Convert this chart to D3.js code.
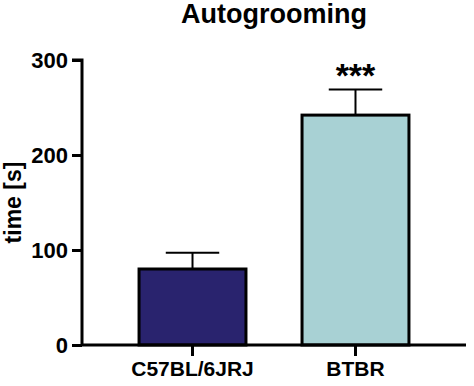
<!DOCTYPE html>
<html>
<head>
<meta charset="utf-8">
<script src="https://cdn.jsdelivr.net/npm/d3@7"></script>
<style>
  body { margin: 0; background: #fff; }
  text { font-family: "Liberation Sans", Arial, sans-serif; font-weight: bold; }
</style>
</head>
<body>
<div id="chart"></div>
<script>
// data
var groups = ["C57BL/6JRJ", "BTBR"];
var means = [80, 242];
var errors = [17, 27];
var colors = ["#29236e", "#a8d1d4"];
var stars = ["", "***"];
var yTicks = [0, 100, 200, 300];

var width = 474, height = 386;
var margin = {top: 60, right: 8, bottom: 41, left: 82};

var svg = d3.select("#chart").append("svg")
    .attr("width", width)
    .attr("height", height);

var y = d3.scaleLinear()
    .domain([0, 300])
    .range([height - margin.bottom, margin.top]);

var x = d3.scaleBand()
    .domain(groups)
    .range([margin.left, width - margin.right])
    .paddingInner(0.344)
    .paddingOuter(0.35);

// title
svg.append("text")
    .attr("x", 274)
    .attr("y", 23)
    .attr("text-anchor", "middle")
    .attr("font-size", 27)
    .text("Autogrooming");

// y axis title
svg.append("text")
    .attr("transform", "translate(21," + y(150) + ") rotate(-90)")
    .attr("text-anchor", "middle")
    .attr("font-size", 23)
    .text("time [s]");

// bars
var bar = svg.selectAll(".bar")
    .data(groups)
    .enter().append("g")
    .attr("class", "bar");

bar.append("line")
    .attr("x1", d => x(d) + x.bandwidth() / 2)
    .attr("x2", d => x(d) + x.bandwidth() / 2)
    .attr("y1", (d, i) => y(means[i]))
    .attr("y2", (d, i) => y(means[i] + errors[i]))
    .attr("stroke", "#000")
    .attr("stroke-width", 2);

bar.append("line")
    .attr("x1", d => x(d) + x.bandwidth() / 4)
    .attr("x2", d => x(d) + x.bandwidth() * 3 / 4)
    .attr("y1", (d, i) => y(means[i] + errors[i]))
    .attr("y2", (d, i) => y(means[i] + errors[i]))
    .attr("stroke", "#000")
    .attr("stroke-width", 2);

bar.append("rect")
    .attr("x", d => x(d))
    .attr("y", (d, i) => y(means[i]))
    .attr("width", x.bandwidth())
    .attr("height", (d, i) => y(0) - y(means[i]))
    .attr("fill", (d, i) => colors[i])
    .attr("stroke", "#000")
    .attr("stroke-width", 3);

bar.append("text")
    .attr("x", d => x(d) + x.bandwidth() / 2)
    .attr("y", (d, i) => y(means[i] + errors[i]) - 2)
    .attr("text-anchor", "middle")
    .attr("font-size", 34)
    .text((d, i) => stars[i]);

// y axis
var yAxis = svg.append("g")
    .attr("transform", "translate(" + margin.left + ",0)")
    .call(d3.axisLeft(y).tickValues(yTicks).tickSize(10).tickPadding(4));

// x axis
var xAxis = svg.append("g")
    .attr("transform", "translate(0," + y(0) + ")")
    .call(d3.axisBottom(x).tickSize(11).tickPadding(5).tickSizeOuter(0));

xAxis.select(".domain")
    .attr("d", "M" + margin.left + ",0H" + (width - margin.right));

[yAxis, xAxis].forEach(function(ax) {
    ax.select(".domain").attr("stroke", "#000").attr("stroke-width", 3);
    ax.selectAll(".tick line").attr("stroke", "#000").attr("stroke-width", 3);
    ax.selectAll(".tick text")
        .attr("fill", "#000")
        .attr("font-size", 21)
        .attr("font-family", "Liberation Sans, Arial, sans-serif")
        .attr("font-weight", "bold");
});
yAxis.selectAll(".tick text").attr("font-size", 22);
yAxis.select(".domain").attr("d", "M-10," + y(300) + "H0V" + y(0));
</script>
</body>
</html>
